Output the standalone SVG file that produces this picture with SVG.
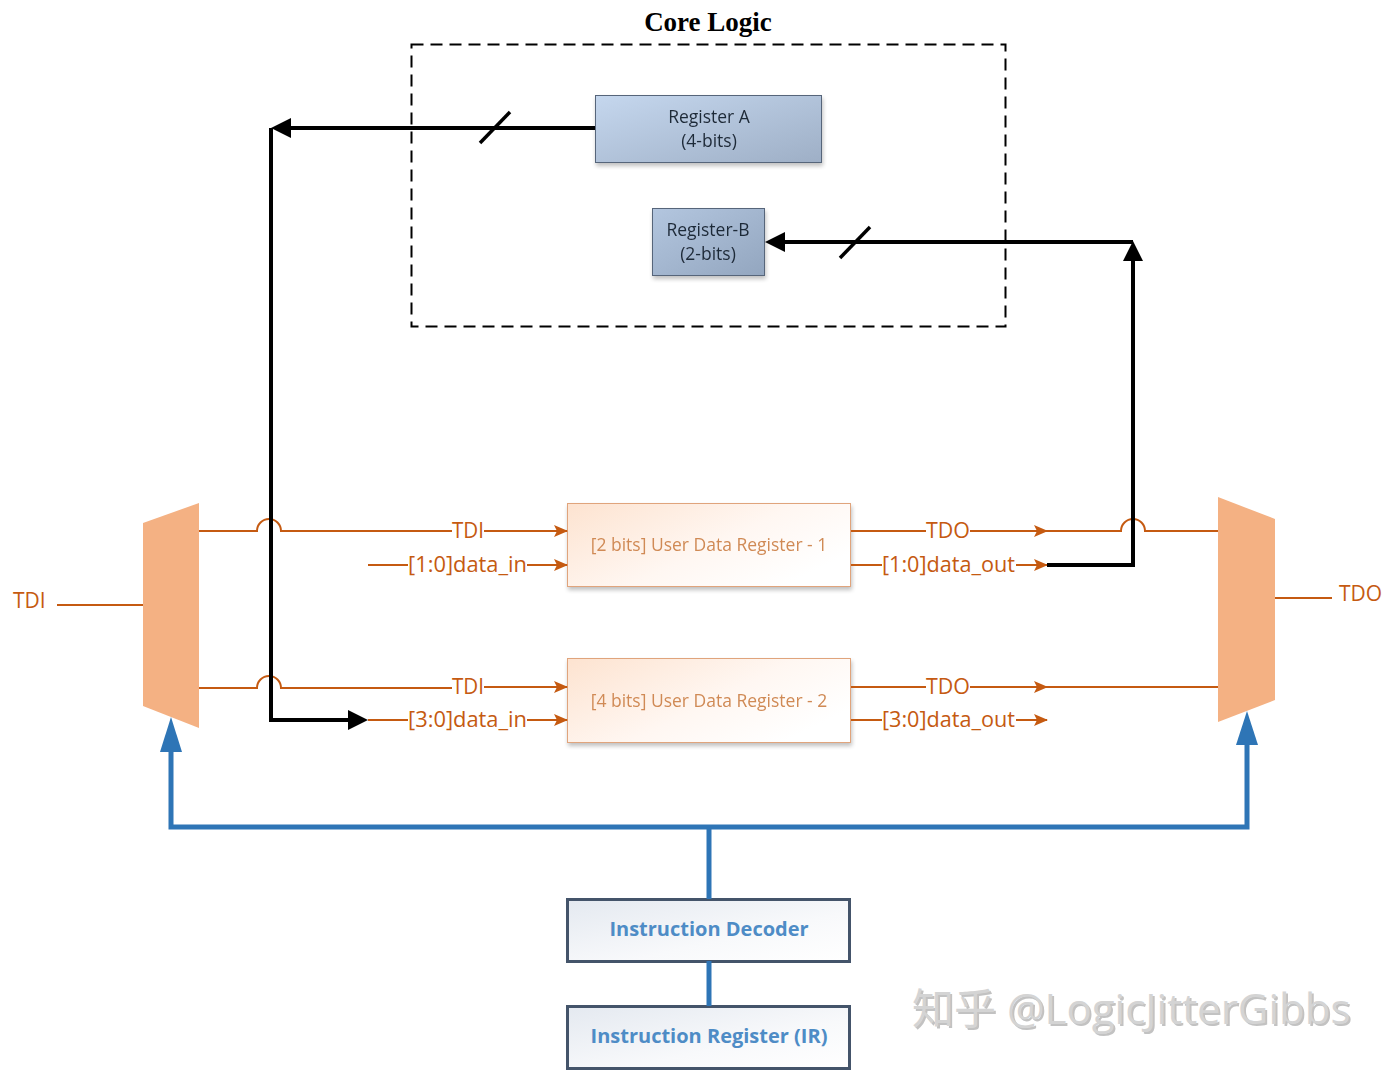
<svg xmlns="http://www.w3.org/2000/svg" width="1394" height="1071" viewBox="0 0 1394 1071">
<defs>
<linearGradient id="gA" x1="0" y1="0" x2="1" y2="1">
<stop offset="0" stop-color="#c5d7ee"/><stop offset="1" stop-color="#9eafc6"/>
</linearGradient>
<linearGradient id="gB" x1="0" y1="0" x2="1" y2="1">
<stop offset="0" stop-color="#b3c6df"/><stop offset="1" stop-color="#93a6bf"/>
</linearGradient>
<linearGradient id="gO" x1="0" y1="0" x2="1" y2="0.6">
<stop offset="0" stop-color="#fde3d0"/><stop offset="0.6" stop-color="#fff7f2"/><stop offset="1" stop-color="#ffffff"/>
</linearGradient>
<linearGradient id="gI" x1="0" y1="0" x2="1" y2="1">
<stop offset="0" stop-color="#e4e9f0"/><stop offset="0.6" stop-color="#f8f9fb"/><stop offset="1" stop-color="#ffffff"/>
</linearGradient>
<filter id="sh" x="-10%" y="-10%" width="130%" height="140%">
<feGaussianBlur in="SourceAlpha" stdDeviation="2"/><feOffset dx="1" dy="3"/>
<feComponentTransfer><feFuncA type="linear" slope="0.25"/></feComponentTransfer>
<feMerge><feMergeNode/><feMergeNode in="SourceGraphic"/></feMerge>
</filter>
<marker id="oa" markerUnits="userSpaceOnUse" markerWidth="14" markerHeight="12" refX="13" refY="6" orient="auto">
<path d="M0,0 L14,6 L0,12 L3,6 z" fill="#c55a11"/>
</marker>
</defs>
<style>
.o{fill:none;stroke:#c55a11;stroke-width:2}
.k{fill:none;stroke:#000;stroke-width:4}
.b{fill:none;stroke:#2e75b6;stroke-width:5}
.lbl{font-family:"Open Sans","Liberation Sans",sans-serif;font-size:21px;fill:#c55a11}
.reg{font-family:"Open Sans","Liberation Sans",sans-serif;font-size:17.5px;fill:#1f2a38;text-anchor:middle}
.udr{font-family:"Open Sans","Liberation Sans",sans-serif;font-size:17.5px;fill:#d08a55;text-anchor:middle}
.ins{font-family:"Open Sans","Liberation Sans",sans-serif;font-size:20px;font-weight:bold;fill:#4e8cc6;text-anchor:middle}
.mux{fill:#f4b183}
</style>
<rect width="1394" height="1071" fill="#ffffff"/>

<g id="core-logic">
<text x="708" y="31" font-family="Liberation Serif,serif" font-size="27" font-weight="bold" text-anchor="middle" fill="#000">Core Logic</text>
<rect x="411.5" y="44.5" width="594" height="282" fill="none" stroke="#000" stroke-width="2" stroke-dasharray="12,7"/>
</g>

<g id="register-a" filter="url(#sh)">
<rect x="595.5" y="95.5" width="226" height="67" fill="url(#gA)" stroke="#56657a" stroke-width="1"/>
<text class="reg" x="709" y="123">Register A</text>
<text class="reg" x="709" y="147">(4-bits)</text>
</g>

<g id="register-b" filter="url(#sh)">
<rect x="652.5" y="208.5" width="112" height="67" fill="url(#gB)" stroke="#56657a" stroke-width="1"/>
<text class="reg" x="708" y="236">Register-B</text>
<text class="reg" x="708" y="260">(2-bits)</text>
</g>

<g id="mux-left">
<polygon class="mux" points="143,523 199,503 199,728 143,706"/>
</g>
<g id="mux-right">
<polygon class="mux" points="1218,497 1275,519 1275,700 1218,722"/>
</g>

<g id="udr-1" filter="url(#sh)">
<rect x="567.5" y="503.5" width="283" height="83" fill="url(#gO)" stroke="#e0a47c" stroke-width="1"/>
<text class="udr" x="709" y="551">[2 bits] User Data Register - 1</text>
</g>
<g id="udr-2" filter="url(#sh)">
<rect x="567.5" y="658.5" width="283" height="84" fill="url(#gO)" stroke="#e0a47c" stroke-width="1"/>
<text class="udr" x="709" y="707">[4 bits] User Data Register - 2</text>
</g>

<g id="instruction-decoder">
<rect x="567.5" y="899.5" width="282" height="62" fill="url(#gI)" stroke="#44546a" stroke-width="3"/>
<text class="ins" x="709" y="936">Instruction Decoder</text>
</g>
<g id="instruction-register">
<rect x="567.5" y="1006.5" width="282" height="62" fill="url(#gI)" stroke="#44546a" stroke-width="3"/>
<text class="ins" x="709" y="1043">Instruction Register (IR)</text>
</g>

<g id="connectors">
<path class="o" d="M57,605 H143"/>
<path class="o" d="M199,531 H257 A12,12 0 0 1 281,531 H452"/>
<path class="o" d="M484,531 H567" marker-end="url(#oa)"/>
<path class="o" d="M368,565 H408"/>
<path class="o" d="M527,565 H567" marker-end="url(#oa)"/>
<path class="o" d="M199,688 H257 A12,12 0 0 1 281,688 H452"/>
<path class="o" d="M484,687 H567" marker-end="url(#oa)"/>
<path class="o" d="M368,720 H408"/>
<path class="o" d="M527,720 H567" marker-end="url(#oa)"/>
<path class="o" d="M851,531 H926"/>
<path class="o" d="M970,531 H1047" marker-end="url(#oa)"/>
<path class="o" d="M1047,531 H1121 A12,12 0 0 1 1145,531 H1218"/>
<path class="o" d="M851,565 H882"/>
<path class="o" d="M1016,565 H1047" marker-end="url(#oa)"/>
<path class="o" d="M851,687 H926"/>
<path class="o" d="M970,687 H1047" marker-end="url(#oa)"/>
<path class="o" d="M1047,687 H1218"/>
<path class="o" d="M851,720 H882"/>
<path class="o" d="M1016,720 H1047" marker-end="url(#oa)"/>
<path class="o" d="M1275,598 H1332"/>
<text class="lbl" x="452" y="538" textLength="32" lengthAdjust="spacingAndGlyphs">TDI</text>
<text class="lbl" x="408" y="572" textLength="119" lengthAdjust="spacingAndGlyphs">[1:0]data_in</text>
<text class="lbl" x="452" y="694" textLength="32" lengthAdjust="spacingAndGlyphs">TDI</text>
<text class="lbl" x="408" y="727" textLength="119" lengthAdjust="spacingAndGlyphs">[3:0]data_in</text>
<text class="lbl" x="926" y="538" textLength="44" lengthAdjust="spacingAndGlyphs">TDO</text>
<text class="lbl" x="882" y="572" textLength="133" lengthAdjust="spacingAndGlyphs">[1:0]data_out</text>
<text class="lbl" x="926" y="694" textLength="44" lengthAdjust="spacingAndGlyphs">TDO</text>
<text class="lbl" x="882" y="727" textLength="133" lengthAdjust="spacingAndGlyphs">[3:0]data_out</text>
<text class="lbl" x="13" y="608">TDI</text>
<text class="lbl" x="1339" y="601">TDO</text>
<path class="k" d="M595,128 H289"/>
<polygon points="271,128 291,118 291,138" fill="#000"/>
<path class="k" d="M271,128 V720 H350" stroke-linejoin="miter"/>
<polygon points="368,720 348,710 348,730" fill="#000"/>
<path d="M480,143 L510,112" stroke="#000" stroke-width="3.5" fill="none"/>
<path class="k" d="M1047,565 H1133 V260" stroke-linejoin="miter"/>
<polygon points="1133,241 1123,261 1143,261" fill="#000"/>
<path class="k" d="M1133,242 H784"/>
<polygon points="765,242 785,232 785,252" fill="#000"/>
<path d="M840,258 L870,227" stroke="#000" stroke-width="3.5" fill="none"/>
<path class="b" d="M171,750 V827 H1247 V742" stroke-linejoin="miter"/>
<polygon points="171,717 160,752 182,752" fill="#2e75b6"/>
<polygon points="1247,711 1236,745 1258,745" fill="#2e75b6"/>
<path class="b" d="M709,827 V899"/>
<path class="b" d="M709,961 V1006"/>
</g>

<g id="watermark">
<text x="914" y="1026" font-family="Open Sans,Noto Sans CJK SC,sans-serif" font-size="42" fill="#9a9a9a" opacity="0.6">知乎 @LogicJitterGibbs</text>
<text x="912" y="1024" font-family="Open Sans,Noto Sans CJK SC,sans-serif" font-size="42" fill="#d4d4d4">知乎 @LogicJitterGibbs</text>
</g>
</svg>
